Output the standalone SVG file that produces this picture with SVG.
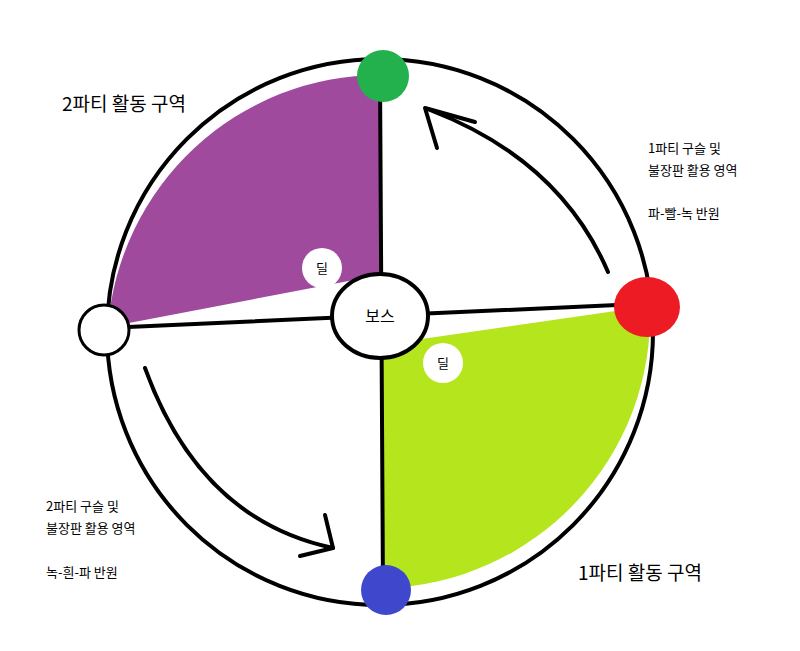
<svg xmlns="http://www.w3.org/2000/svg" width="800" height="651" viewBox="0 0 800 651">
<style>
.l{stroke:#000;stroke-width:4;fill:none;stroke-linecap:round;stroke-linejoin:round}
.t{font-family:"Noto Sans CJK KR","Noto Sans",sans-serif;fill:#000}
</style>
<rect width="800" height="651" fill="#fff"/>
<g id="zones">
<path d="M380,75 L380,275 L108,327 A273,273 0 0 1 380,75 Z" fill="#a04a9e"/>
<path d="M380,345 L650,306 A273,273 0 0 1 385,588 Z" fill="#b5e61d"/>
</g>
<g id="connectors">
<circle cx="380" cy="332" r="273" class="l"/>
<line x1="380" y1="75" x2="383" y2="590" class="l"/>
<line x1="128" y1="327" x2="617" y2="305" class="l"/>
<path d="M608,272 Q560,160 430,110" class="l"/>
<path d="M437,148 L425,108 L475,122" class="l"/>
<path d="M145,368 Q200,520 333,548" class="l"/>
<path d="M325,515 L333,548 L300,556" class="l"/>
</g>
<g id="green"><circle cx="383" cy="76" r="26" fill="#22b14c"/></g>
<g id="red"><ellipse cx="647" cy="307" rx="33" ry="30" fill="#ed1c24"/></g>
<g id="blue"><circle cx="386" cy="590" r="25" fill="#3f48cc"/></g>
<g id="white"><circle cx="104" cy="330" r="25" fill="#fff" stroke="#000" stroke-width="3"/></g>
<g id="boss"><ellipse cx="380" cy="316" rx="48" ry="42" fill="#fff" stroke="#000" stroke-width="4"/>
<text x="380" y="322" class="t" font-size="16" text-anchor="middle">보스</text></g>
<g id="deal1"><circle cx="322" cy="268" r="20" fill="#fff"/><text x="322" y="273" class="t" font-size="13" text-anchor="middle">딜</text></g>
<g id="deal2"><circle cx="443" cy="363" r="20" fill="#fff"/><text x="443" y="368" class="t" font-size="13" text-anchor="middle">딜</text></g>
<g id="labels">
<text x="62" y="111" class="t" font-size="19">2파티 활동 구역</text>
<text x="578" y="580" class="t" font-size="19">1파티 활동 구역</text>
<text x="648" y="153" class="t" font-size="13">1파티 구슬 및</text>
<text x="648" y="175" class="t" font-size="13">불장판 활용 영역</text>
<text x="648" y="218" class="t" font-size="13">파-빨-녹 반원</text>
<text x="46" y="511" class="t" font-size="13">2파티 구슬 및</text>
<text x="46" y="533" class="t" font-size="13">불장판 활용 영역</text>
<text x="46" y="577" class="t" font-size="13">녹-흰-파 반원</text>
</g>
</svg>
